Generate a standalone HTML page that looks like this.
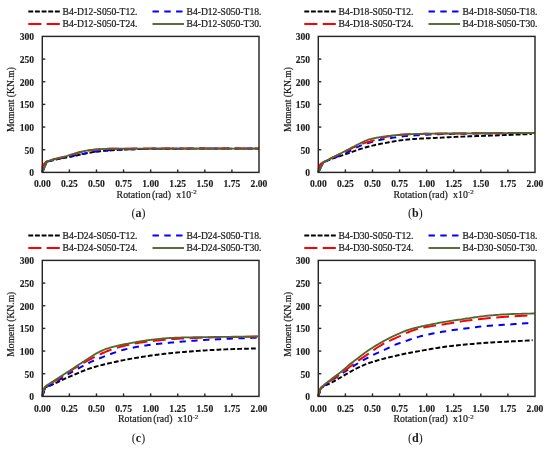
<!DOCTYPE html>
<html><head><meta charset="utf-8"><style>
html,body{margin:0;padding:0;background:#fff;}
svg{display:block;filter:blur(0.3px);}
text{font-family:"Liberation Serif","Times New Roman",serif;fill:#1a1a1a;}
.lg{font-size:9.6px;stroke:#1a1a1a;stroke-width:0.22px;}
.tk{font-size:9.6px;font-weight:bold;stroke:#1a1a1a;stroke-width:0.12px;}
.ti{font-size:9.9px;stroke:#1a1a1a;stroke-width:0.2px;}
.yt{font-size:9.6px;stroke:#1a1a1a;stroke-width:0.2px;}
.sup{font-size:7px;}
.cap{font-size:12px;}
</style></head><body>
<svg width="550" height="449" viewBox="0 0 550 449">
<rect width="550" height="449" fill="#fff"/>
<line x1="28.3" y1="11.5" x2="59.8" y2="11.5" stroke="#000000" stroke-width="1.9" stroke-dasharray="4.9 1.75"/>
<text x="62.5" y="14.6" class="lg">B4-D12-S050-T12.</text>
<line x1="152.5" y1="11.5" x2="184.0" y2="11.5" stroke="#0000ff" stroke-width="1.9" stroke-dasharray="6.4 5.4"/>
<text x="186.5" y="14.6" class="lg">B4-D12-S050-T18.</text>
<line x1="28.3" y1="24.0" x2="59.8" y2="24.0" stroke="#ff0000" stroke-width="1.9" stroke-dasharray="13.1 5.3"/>
<text x="62.5" y="27.1" class="lg">B4-D12-S050-T24.</text>
<line x1="152.5" y1="24.0" x2="184.0" y2="24.0" stroke="#536630" stroke-width="1.9"/>
<text x="186.5" y="27.1" class="lg">B4-D12-S050-T30.</text>
<path d="M42.30,172.40 L46.74,161.79 L47.60,161.58 L48.45,161.36 L49.31,161.14 L50.17,160.92 L51.02,160.70 L51.88,160.48 L52.73,160.27 L53.59,160.06 L54.45,159.86 L55.30,159.66 L56.17,159.47 L57.04,159.28 L57.90,159.10 L58.77,158.92 L59.64,158.75 L60.50,158.57 L61.37,158.40 L62.24,158.23 L63.10,158.06 L63.97,157.89 L65.05,157.68 L66.14,157.48 L67.22,157.28 L68.30,157.08 L69.39,156.88 L70.47,156.68 L71.55,156.48 L72.64,156.28 L73.72,156.07 L74.80,155.85 L75.72,155.66 L76.63,155.47 L77.54,155.27 L78.45,155.06 L79.36,154.86 L80.27,154.65 L81.18,154.44 L82.09,154.24 L83.00,154.05 L83.91,153.86 L84.82,153.67 L85.73,153.49 L86.64,153.30 L87.55,153.11 L88.46,152.93 L89.37,152.76 L90.28,152.59 L91.19,152.43 L92.10,152.28 L93.01,152.14 L93.92,152.01 L94.83,151.88 L95.74,151.76 L96.65,151.64 L97.56,151.53 L98.47,151.43 L99.38,151.33 L100.29,151.23 L101.20,151.14 L102.11,151.05 L103.02,150.96 L103.93,150.88 L104.84,150.80 L105.75,150.73 L106.66,150.65 L107.57,150.58 L108.48,150.52 L109.39,150.45 L110.30,150.39 L111.21,150.32 L112.12,150.26 L113.03,150.20 L113.94,150.14 L114.85,150.09 L115.76,150.03 L116.67,149.98 L117.58,149.92 L118.49,149.87 L119.40,149.83 L120.31,149.78 L121.72,149.71 L123.13,149.64 L124.54,149.57 L125.95,149.50 L127.35,149.44 L128.76,149.38 L130.17,149.32 L131.58,149.27 L132.99,149.23 L134.40,149.19 L137.11,149.12 L139.81,149.06 L142.52,149.00 L145.23,148.95 L147.94,148.90 L150.65,148.85 L153.36,148.81 L156.07,148.78 L158.78,148.75 L161.49,148.74 L165.82,148.71 L170.15,148.69 L174.49,148.67 L178.82,148.65 L183.15,148.64 L187.49,148.62 L191.82,148.61 L196.16,148.61 L200.49,148.60 L204.82,148.60 L210.24,148.60 L215.66,148.60 L221.08,148.60 L226.50,148.60 L231.91,148.60 L237.33,148.60 L242.75,148.60 L248.16,148.60 L253.58,148.60 L259.00,148.60" fill="none" stroke="#000000" stroke-width="1.95" stroke-linejoin="round" stroke-dasharray="4.8 2.1"/>
<path d="M42.30,172.40 L46.74,161.70 L47.60,161.48 L48.45,161.25 L49.31,161.02 L50.17,160.79 L51.02,160.56 L51.88,160.33 L52.73,160.11 L53.59,159.89 L54.45,159.68 L55.30,159.48 L56.17,159.28 L57.04,159.09 L57.90,158.90 L58.77,158.72 L59.64,158.54 L60.50,158.37 L61.37,158.19 L62.24,158.02 L63.10,157.84 L63.97,157.67 L65.05,157.45 L66.14,157.23 L67.22,157.02 L68.30,156.81 L69.39,156.60 L70.47,156.39 L71.55,156.18 L72.64,155.97 L73.72,155.75 L74.80,155.54 L75.72,155.35 L76.63,155.16 L77.54,154.97 L78.45,154.77 L79.36,154.58 L80.27,154.39 L81.18,154.19 L82.09,154.00 L83.00,153.82 L83.91,153.63 L84.82,153.45 L85.73,153.26 L86.64,153.08 L87.55,152.89 L88.46,152.71 L89.37,152.53 L90.28,152.36 L91.19,152.20 L92.10,152.05 L93.01,151.91 L93.92,151.78 L94.83,151.66 L95.74,151.55 L96.65,151.43 L97.56,151.33 L98.47,151.23 L99.38,151.13 L100.29,151.04 L101.20,150.95 L102.11,150.87 L103.02,150.79 L103.93,150.71 L104.84,150.64 L105.75,150.56 L106.66,150.50 L107.57,150.43 L108.48,150.37 L109.39,150.30 L110.30,150.24 L111.21,150.19 L112.12,150.13 L113.03,150.07 L113.94,150.02 L114.85,149.97 L115.76,149.92 L116.67,149.87 L117.58,149.82 L118.49,149.77 L119.40,149.73 L120.31,149.69 L121.72,149.62 L123.13,149.56 L124.54,149.50 L125.95,149.43 L127.35,149.38 L128.76,149.32 L130.17,149.27 L131.58,149.22 L132.99,149.18 L134.40,149.14 L137.11,149.08 L139.81,149.03 L142.52,148.97 L145.23,148.93 L147.94,148.88 L150.65,148.84 L153.36,148.81 L156.07,148.78 L158.78,148.75 L161.49,148.74 L165.82,148.71 L170.15,148.69 L174.49,148.67 L178.82,148.65 L183.15,148.64 L187.49,148.63 L191.82,148.61 L196.16,148.61 L200.49,148.60 L204.82,148.60 L210.24,148.60 L215.66,148.60 L221.08,148.60 L226.50,148.60 L231.91,148.60 L237.33,148.60 L242.75,148.60 L248.16,148.60 L253.58,148.60 L259.00,148.60" fill="none" stroke="#0000ff" stroke-width="2.0" stroke-linejoin="round" stroke-dasharray="6.3 5.5"/>
<path d="M42.30,172.40 L42.52,166.60 L42.71,166.28 L42.91,165.95 L43.10,165.62 L43.30,165.28 L43.49,164.95 L43.69,164.63 L43.88,164.32 L44.08,164.02 L44.27,163.76 L44.47,163.51 L44.66,163.29 L44.86,163.07 L45.05,162.86 L45.25,162.66 L45.44,162.47 L45.64,162.29 L45.83,162.13 L46.03,161.98 L46.22,161.85 L46.42,161.75 L48.34,160.89 L50.25,160.17 L52.17,159.57 L54.09,159.07 L56.01,158.63 L57.92,158.23 L59.84,157.85 L61.76,157.45 L63.68,157.02 L65.60,156.53 L67.42,156.01 L69.24,155.47 L71.06,154.91 L72.88,154.35 L74.70,153.79 L76.52,153.24 L78.34,152.72 L80.16,152.24 L81.98,151.80 L83.80,151.41 L84.72,151.23 L85.64,151.06 L86.56,150.90 L87.48,150.74 L88.40,150.59 L89.32,150.44 L90.24,150.31 L91.17,150.18 L92.09,150.07 L93.01,149.96 L93.92,149.86 L94.83,149.77 L95.74,149.68 L96.65,149.59 L97.56,149.51 L98.47,149.44 L99.38,149.37 L100.29,149.30 L101.20,149.24 L102.11,149.19 L103.02,149.14 L103.93,149.09 L104.84,149.05 L105.75,149.01 L106.66,148.97 L107.57,148.93 L108.48,148.90 L109.39,148.87 L110.30,148.85 L111.21,148.83 L112.58,148.80 L113.94,148.77 L115.31,148.75 L116.67,148.73 L118.04,148.71 L119.40,148.69 L120.77,148.67 L122.13,148.66 L123.50,148.65 L124.86,148.65 L127.44,148.64 L130.02,148.63 L132.60,148.62 L135.18,148.62 L137.76,148.61 L140.34,148.61 L142.91,148.60 L145.49,148.60 L148.07,148.60 L150.65,148.60 L161.49,148.60 L172.32,148.60 L183.15,148.60 L193.99,148.60 L204.82,148.60 L215.66,148.60 L226.50,148.60 L237.33,148.60 L248.16,148.60 L259.00,148.60" fill="none" stroke="#ff0000" stroke-width="2.0" stroke-linejoin="round" stroke-dasharray="12.8 5.6"/>
<path d="M42.30,172.40 L46.74,161.38 L48.63,160.88 L50.51,160.37 L52.40,159.87 L54.28,159.36 L56.17,158.86 L58.05,158.35 L59.94,157.85 L61.82,157.34 L63.71,156.82 L65.60,156.31 L67.42,155.79 L69.24,155.25 L71.06,154.69 L72.88,154.12 L74.70,153.56 L76.52,153.02 L78.34,152.50 L80.16,152.01 L81.98,151.57 L83.80,151.18 L84.72,151.01 L85.64,150.83 L86.56,150.67 L87.48,150.51 L88.40,150.35 L89.32,150.21 L90.24,150.08 L91.17,149.95 L92.09,149.84 L93.01,149.73 L93.92,149.64 L94.83,149.55 L95.74,149.46 L96.65,149.38 L97.56,149.31 L98.47,149.23 L99.38,149.17 L100.29,149.11 L101.20,149.06 L102.11,149.01 L103.02,148.96 L103.93,148.92 L104.84,148.88 L105.75,148.84 L106.66,148.81 L107.57,148.78 L108.48,148.75 L109.39,148.72 L110.30,148.70 L111.21,148.69 L112.58,148.68 L113.94,148.66 L115.31,148.65 L116.67,148.64 L118.04,148.63 L119.40,148.62 L120.77,148.61 L122.13,148.60 L123.50,148.60 L124.86,148.60 L138.28,148.60 L151.69,148.60 L165.10,148.60 L178.52,148.60 L191.93,148.60 L205.35,148.60 L218.76,148.60 L232.17,148.60 L245.59,148.60 L259.00,148.60" fill="none" stroke="#536630" stroke-width="1.85" stroke-linejoin="round"/>
<rect x="42.30" y="36.40" width="216.70" height="136.00" fill="none" stroke="#262626" stroke-width="1.45"/>
<line x1="42.30" y1="149.73" x2="45.30" y2="149.73" stroke="#262626" stroke-width="1.4"/>
<line x1="42.30" y1="127.07" x2="45.30" y2="127.07" stroke="#262626" stroke-width="1.4"/>
<line x1="42.30" y1="104.40" x2="45.30" y2="104.40" stroke="#262626" stroke-width="1.4"/>
<line x1="42.30" y1="81.73" x2="45.30" y2="81.73" stroke="#262626" stroke-width="1.4"/>
<line x1="42.30" y1="59.07" x2="45.30" y2="59.07" stroke="#262626" stroke-width="1.4"/>
<line x1="69.39" y1="172.40" x2="69.39" y2="169.40" stroke="#262626" stroke-width="1.4"/>
<line x1="96.47" y1="172.40" x2="96.47" y2="169.40" stroke="#262626" stroke-width="1.4"/>
<line x1="123.56" y1="172.40" x2="123.56" y2="169.40" stroke="#262626" stroke-width="1.4"/>
<line x1="150.65" y1="172.40" x2="150.65" y2="169.40" stroke="#262626" stroke-width="1.4"/>
<line x1="177.74" y1="172.40" x2="177.74" y2="169.40" stroke="#262626" stroke-width="1.4"/>
<line x1="204.82" y1="172.40" x2="204.82" y2="169.40" stroke="#262626" stroke-width="1.4"/>
<line x1="231.91" y1="172.40" x2="231.91" y2="169.40" stroke="#262626" stroke-width="1.4"/>
<text x="34.10" y="176.20" class="tk" text-anchor="end">0</text>
<text x="34.10" y="153.53" class="tk" text-anchor="end">50</text>
<text x="34.10" y="130.87" class="tk" text-anchor="end">100</text>
<text x="34.10" y="108.20" class="tk" text-anchor="end">150</text>
<text x="34.10" y="85.53" class="tk" text-anchor="end">200</text>
<text x="34.10" y="62.87" class="tk" text-anchor="end">250</text>
<text x="34.10" y="40.20" class="tk" text-anchor="end">300</text>
<text x="42.30" y="187.10" class="tk" text-anchor="middle">0.00</text>
<text x="69.39" y="187.10" class="tk" text-anchor="middle">0.25</text>
<text x="96.47" y="187.10" class="tk" text-anchor="middle">0.50</text>
<text x="123.56" y="187.10" class="tk" text-anchor="middle">0.75</text>
<text x="150.65" y="187.10" class="tk" text-anchor="middle">1.00</text>
<text x="177.74" y="187.10" class="tk" text-anchor="middle">1.25</text>
<text x="204.82" y="187.10" class="tk" text-anchor="middle">1.50</text>
<text x="231.91" y="187.10" class="tk" text-anchor="middle">1.75</text>
<text x="259.00" y="187.10" class="tk" text-anchor="middle">2.00</text>
<text transform="translate(14.20,99.60) rotate(-90)" class="yt" text-anchor="middle">Moment (KN.m)</text>
<text x="116.60" y="198.00" class="ti">Rotation<tspan x="151.90">(rad)</tspan><tspan x="176.30">x10</tspan><tspan class="sup" x="191.00" dy="-3.9">-2</tspan></text>
<text x="138.50" y="217.30" class="cap" text-anchor="middle">(<tspan font-weight="bold">a</tspan>)</text>
<line x1="304.3" y1="11.5" x2="335.8" y2="11.5" stroke="#000000" stroke-width="1.9" stroke-dasharray="4.9 1.75"/>
<text x="338.5" y="14.6" class="lg">B4-D18-S050-T12.</text>
<line x1="428.5" y1="11.5" x2="460.0" y2="11.5" stroke="#0000ff" stroke-width="1.9" stroke-dasharray="6.4 5.4"/>
<text x="462.5" y="14.6" class="lg">B4-D18-S050-T18.</text>
<line x1="304.3" y1="24.0" x2="335.8" y2="24.0" stroke="#ff0000" stroke-width="1.9" stroke-dasharray="13.1 5.3"/>
<text x="338.5" y="27.1" class="lg">B4-D18-S050-T24.</text>
<line x1="428.5" y1="24.0" x2="460.0" y2="24.0" stroke="#536630" stroke-width="1.9"/>
<text x="462.5" y="27.1" class="lg">B4-D18-S050-T30.</text>
<path d="M318.30,172.40 L323.28,162.43 L324.04,162.10 L324.80,161.77 L325.56,161.44 L326.32,161.11 L327.08,160.78 L327.83,160.45 L328.59,160.13 L329.35,159.81 L330.11,159.50 L330.87,159.21 L332.37,158.65 L333.88,158.11 L335.39,157.58 L336.89,157.08 L338.40,156.58 L339.90,156.09 L341.41,155.60 L342.92,155.10 L344.42,154.60 L345.93,154.09 L347.32,153.60 L348.70,153.10 L350.09,152.60 L351.48,152.09 L352.86,151.59 L354.25,151.09 L355.64,150.59 L357.02,150.11 L358.41,149.64 L359.80,149.19 L360.71,148.90 L361.62,148.62 L362.53,148.33 L363.44,148.06 L364.35,147.79 L365.26,147.52 L366.17,147.26 L367.08,147.00 L367.99,146.76 L368.90,146.51 L369.81,146.28 L370.72,146.05 L371.63,145.83 L372.54,145.61 L373.45,145.39 L374.36,145.18 L375.27,144.98 L376.18,144.78 L377.09,144.58 L378.00,144.38 L378.91,144.19 L379.82,144.01 L380.73,143.82 L381.64,143.65 L382.55,143.47 L383.46,143.30 L384.37,143.12 L385.28,142.95 L386.19,142.78 L387.10,142.62 L388.02,142.44 L388.94,142.27 L389.87,142.10 L390.79,141.93 L391.71,141.76 L392.63,141.60 L393.55,141.44 L394.47,141.28 L395.39,141.13 L396.31,140.98 L397.29,140.83 L398.26,140.69 L399.24,140.54 L400.21,140.40 L401.19,140.26 L402.16,140.13 L403.14,140.00 L404.11,139.88 L405.09,139.77 L406.06,139.67 L407.31,139.55 L408.56,139.44 L409.80,139.33 L411.05,139.23 L412.29,139.13 L413.54,139.04 L414.79,138.95 L416.03,138.87 L417.28,138.79 L418.52,138.72 L419.89,138.64 L421.25,138.57 L422.62,138.51 L423.98,138.44 L425.35,138.38 L426.72,138.32 L428.08,138.27 L429.45,138.21 L430.81,138.15 L432.18,138.08 L433.54,138.02 L434.91,137.95 L436.27,137.88 L437.64,137.82 L439.00,137.75 L440.37,137.68 L441.73,137.61 L443.10,137.54 L444.46,137.47 L445.83,137.40 L446.74,137.35 L447.65,137.30 L448.56,137.25 L449.47,137.20 L450.38,137.15 L451.29,137.09 L452.20,137.04 L453.11,136.99 L454.02,136.95 L454.93,136.90 L458.53,136.75 L462.12,136.60 L465.72,136.46 L469.32,136.33 L472.92,136.21 L476.51,136.09 L480.11,135.97 L483.71,135.85 L487.30,135.72 L490.90,135.59 L494.99,135.43 L499.07,135.28 L503.16,135.12 L507.24,134.96 L511.33,134.80 L515.41,134.64 L519.50,134.48 L523.58,134.32 L527.66,134.16 L531.75,134.00" fill="none" stroke="#000000" stroke-width="1.95" stroke-linejoin="round" stroke-dasharray="4.8 2.1"/>
<path d="M318.30,172.40 L323.28,162.20 L325.55,161.28 L327.81,160.37 L330.08,159.47 L332.34,158.58 L334.61,157.68 L336.87,156.77 L339.14,155.84 L341.40,154.89 L343.66,153.92 L345.93,152.91 L347.32,152.25 L348.70,151.56 L350.09,150.84 L351.48,150.10 L352.86,149.35 L354.25,148.62 L355.64,147.90 L357.02,147.21 L358.41,146.56 L359.80,145.97 L360.71,145.61 L361.62,145.25 L362.53,144.91 L363.44,144.58 L364.35,144.26 L365.26,143.95 L366.17,143.65 L367.08,143.35 L367.99,143.07 L368.90,142.80 L370.08,142.45 L371.26,142.12 L372.44,141.79 L373.62,141.47 L374.80,141.16 L375.99,140.87 L377.17,140.58 L378.35,140.31 L379.53,140.05 L380.71,139.81 L381.89,139.57 L383.07,139.35 L384.25,139.13 L385.43,138.93 L386.61,138.73 L387.80,138.54 L388.98,138.35 L390.16,138.17 L391.34,137.99 L392.52,137.81 L393.75,137.62 L394.99,137.44 L396.23,137.25 L397.46,137.07 L398.70,136.89 L399.93,136.72 L401.17,136.55 L402.40,136.40 L403.64,136.26 L404.87,136.13 L405.97,136.03 L407.06,135.94 L408.15,135.85 L409.25,135.76 L410.34,135.68 L411.44,135.61 L412.53,135.53 L413.63,135.46 L414.72,135.39 L415.81,135.32 L417.28,135.22 L418.74,135.13 L420.20,135.04 L421.67,134.95 L423.13,134.86 L424.59,134.78 L426.05,134.70 L427.52,134.63 L428.98,134.56 L430.44,134.50 L433.31,134.40 L436.18,134.30 L439.06,134.20 L441.93,134.11 L444.80,134.03 L447.67,133.96 L450.54,133.89 L453.41,133.83 L456.28,133.78 L459.15,133.73 L466.74,133.63 L474.32,133.54 L481.91,133.46 L489.49,133.40 L497.08,133.34 L504.66,133.28 L512.25,133.23 L519.83,133.17 L527.42,133.11 L535.00,133.05" fill="none" stroke="#0000ff" stroke-width="2.0" stroke-linejoin="round" stroke-dasharray="6.3 5.5"/>
<path d="M318.30,172.40 L318.84,168.18 L318.98,167.79 L319.12,167.37 L319.26,166.94 L319.41,166.50 L319.55,166.06 L319.69,165.65 L319.83,165.27 L319.97,164.94 L320.11,164.67 L320.25,164.47 L320.55,164.14 L320.86,163.86 L321.16,163.62 L321.46,163.42 L321.77,163.23 L322.07,163.07 L322.37,162.91 L322.68,162.76 L322.98,162.60 L323.28,162.43 L325.25,161.29 L327.21,160.21 L329.17,159.18 L331.13,158.20 L333.09,157.24 L335.05,156.30 L337.01,155.39 L338.97,154.47 L340.93,153.56 L342.90,152.63 L345.00,151.62 L347.10,150.58 L349.20,149.53 L351.30,148.49 L353.41,147.47 L355.51,146.48 L357.61,145.53 L359.71,144.65 L361.81,143.84 L363.92,143.11 L364.60,142.90 L365.28,142.71 L365.96,142.53 L366.65,142.36 L367.33,142.19 L368.01,142.02 L368.69,141.85 L369.38,141.68 L370.06,141.50 L370.74,141.30 L371.46,141.08 L372.17,140.84 L372.89,140.59 L373.60,140.33 L374.32,140.07 L375.03,139.81 L375.75,139.55 L376.46,139.30 L377.18,139.07 L377.89,138.85 L378.81,138.59 L379.73,138.33 L380.66,138.08 L381.58,137.84 L382.50,137.60 L383.42,137.37 L384.34,137.16 L385.26,136.96 L386.18,136.76 L387.10,136.59 L388.02,136.42 L388.94,136.26 L389.87,136.10 L390.79,135.95 L391.71,135.81 L392.63,135.68 L393.55,135.55 L394.47,135.43 L395.39,135.32 L396.31,135.23 L397.67,135.09 L399.02,134.97 L400.38,134.84 L401.73,134.73 L403.08,134.62 L404.44,134.52 L405.79,134.44 L407.15,134.36 L408.50,134.29 L409.86,134.23 L412.09,134.15 L414.32,134.07 L416.55,134.01 L418.78,133.94 L421.02,133.89 L423.25,133.84 L425.48,133.79 L427.71,133.75 L429.94,133.72 L432.18,133.69 L438.12,133.61 L444.07,133.54 L450.02,133.48 L455.97,133.43 L461.92,133.38 L467.87,133.34 L473.81,133.30 L479.76,133.26 L485.71,133.22 L491.66,133.19 L495.99,133.16 L500.33,133.14 L504.66,133.11 L509.00,133.09 L513.33,133.07 L517.66,133.05 L522.00,133.02 L526.33,133.00 L530.67,132.98 L535.00,132.96" fill="none" stroke="#ff0000" stroke-width="2.0" stroke-linejoin="round" stroke-dasharray="12.8 5.6"/>
<path d="M318.30,172.40 L323.28,162.43 L325.25,161.41 L327.21,160.39 L329.17,159.36 L331.13,158.34 L333.09,157.32 L335.05,156.30 L337.01,155.28 L338.97,154.26 L340.93,153.24 L342.90,152.23 L344.66,151.31 L346.43,150.39 L348.19,149.46 L349.96,148.54 L351.73,147.61 L353.49,146.70 L355.26,145.78 L357.02,144.88 L358.79,143.99 L360.56,143.11 L361.10,142.84 L361.64,142.57 L362.18,142.29 L362.72,142.01 L363.27,141.74 L363.81,141.47 L364.35,141.22 L364.89,140.97 L365.43,140.74 L365.97,140.53 L366.62,140.29 L367.27,140.07 L367.92,139.85 L368.57,139.64 L369.22,139.45 L369.87,139.26 L370.52,139.08 L371.17,138.90 L371.82,138.74 L372.48,138.58 L373.03,138.45 L373.58,138.33 L374.13,138.21 L374.69,138.10 L375.24,137.99 L375.79,137.89 L376.34,137.78 L376.90,137.68 L377.45,137.59 L378.00,137.49 L378.91,137.34 L379.82,137.20 L380.73,137.06 L381.64,136.92 L382.55,136.79 L383.46,136.66 L384.37,136.54 L385.28,136.42 L386.19,136.30 L387.10,136.18 L388.02,136.06 L388.94,135.94 L389.87,135.82 L390.79,135.70 L391.71,135.59 L392.63,135.47 L393.55,135.37 L394.47,135.27 L395.39,135.18 L396.31,135.09 L397.67,134.97 L399.02,134.86 L400.38,134.75 L401.73,134.65 L403.08,134.55 L404.44,134.46 L405.79,134.38 L407.15,134.30 L408.50,134.24 L409.86,134.18 L412.09,134.11 L414.32,134.04 L416.55,133.98 L418.78,133.93 L421.02,133.88 L423.25,133.83 L425.48,133.79 L427.71,133.75 L429.94,133.72 L432.18,133.69 L434.45,133.66 L436.73,133.63 L439.00,133.60 L441.28,133.58 L443.55,133.56 L445.83,133.54 L448.10,133.52 L450.38,133.50 L452.65,133.48 L454.93,133.46 L458.60,133.43 L462.28,133.40 L465.95,133.37 L469.62,133.34 L473.29,133.31 L476.97,133.28 L480.64,133.26 L484.31,133.23 L487.99,133.21 L491.66,133.19 L495.99,133.16 L500.33,133.14 L504.66,133.11 L509.00,133.09 L513.33,133.07 L517.66,133.05 L522.00,133.03 L526.33,133.00 L530.67,132.98 L535.00,132.96" fill="none" stroke="#536630" stroke-width="1.85" stroke-linejoin="round"/>
<rect x="318.30" y="36.40" width="216.70" height="136.00" fill="none" stroke="#262626" stroke-width="1.45"/>
<line x1="318.30" y1="149.73" x2="321.30" y2="149.73" stroke="#262626" stroke-width="1.4"/>
<line x1="318.30" y1="127.07" x2="321.30" y2="127.07" stroke="#262626" stroke-width="1.4"/>
<line x1="318.30" y1="104.40" x2="321.30" y2="104.40" stroke="#262626" stroke-width="1.4"/>
<line x1="318.30" y1="81.73" x2="321.30" y2="81.73" stroke="#262626" stroke-width="1.4"/>
<line x1="318.30" y1="59.07" x2="321.30" y2="59.07" stroke="#262626" stroke-width="1.4"/>
<line x1="345.39" y1="172.40" x2="345.39" y2="169.40" stroke="#262626" stroke-width="1.4"/>
<line x1="372.48" y1="172.40" x2="372.48" y2="169.40" stroke="#262626" stroke-width="1.4"/>
<line x1="399.56" y1="172.40" x2="399.56" y2="169.40" stroke="#262626" stroke-width="1.4"/>
<line x1="426.65" y1="172.40" x2="426.65" y2="169.40" stroke="#262626" stroke-width="1.4"/>
<line x1="453.74" y1="172.40" x2="453.74" y2="169.40" stroke="#262626" stroke-width="1.4"/>
<line x1="480.82" y1="172.40" x2="480.82" y2="169.40" stroke="#262626" stroke-width="1.4"/>
<line x1="507.91" y1="172.40" x2="507.91" y2="169.40" stroke="#262626" stroke-width="1.4"/>
<text x="310.10" y="176.20" class="tk" text-anchor="end">0</text>
<text x="310.10" y="153.53" class="tk" text-anchor="end">50</text>
<text x="310.10" y="130.87" class="tk" text-anchor="end">100</text>
<text x="310.10" y="108.20" class="tk" text-anchor="end">150</text>
<text x="310.10" y="85.53" class="tk" text-anchor="end">200</text>
<text x="310.10" y="62.87" class="tk" text-anchor="end">250</text>
<text x="310.10" y="40.20" class="tk" text-anchor="end">300</text>
<text x="318.30" y="187.10" class="tk" text-anchor="middle">0.00</text>
<text x="345.39" y="187.10" class="tk" text-anchor="middle">0.25</text>
<text x="372.48" y="187.10" class="tk" text-anchor="middle">0.50</text>
<text x="399.56" y="187.10" class="tk" text-anchor="middle">0.75</text>
<text x="426.65" y="187.10" class="tk" text-anchor="middle">1.00</text>
<text x="453.74" y="187.10" class="tk" text-anchor="middle">1.25</text>
<text x="480.82" y="187.10" class="tk" text-anchor="middle">1.50</text>
<text x="507.91" y="187.10" class="tk" text-anchor="middle">1.75</text>
<text x="535.00" y="187.10" class="tk" text-anchor="middle">2.00</text>
<text transform="translate(290.70,99.60) rotate(-90)" class="yt" text-anchor="middle">Moment (KN.m)</text>
<text x="393.40" y="198.00" class="ti">Rotation<tspan x="428.70">(rad)</tspan><tspan x="453.10">x10</tspan><tspan class="sup" x="467.80" dy="-3.9">-2</tspan></text>
<text x="415.30" y="217.30" class="cap" text-anchor="middle">(<tspan font-weight="bold">b</tspan>)</text>
<line x1="28.3" y1="235.5" x2="59.8" y2="235.5" stroke="#000000" stroke-width="1.9" stroke-dasharray="4.9 1.75"/>
<text x="62.5" y="238.6" class="lg">B4-D24-S050-T12.</text>
<line x1="152.5" y1="235.5" x2="184.0" y2="235.5" stroke="#0000ff" stroke-width="1.9" stroke-dasharray="6.4 5.4"/>
<text x="186.5" y="238.6" class="lg">B4-D24-S050-T18.</text>
<line x1="28.3" y1="248.0" x2="59.8" y2="248.0" stroke="#ff0000" stroke-width="1.9" stroke-dasharray="13.1 5.3"/>
<text x="62.5" y="251.1" class="lg">B4-D24-S050-T24.</text>
<line x1="152.5" y1="248.0" x2="184.0" y2="248.0" stroke="#536630" stroke-width="1.9"/>
<text x="186.5" y="251.1" class="lg">B4-D24-S050-T30.</text>
<path d="M42.30,396.40 L45.33,387.33 L45.78,387.18 L46.22,387.02 L46.67,386.87 L47.11,386.72 L47.55,386.57 L48.00,386.41 L48.44,386.25 L48.89,386.09 L49.33,385.92 L49.78,385.75 L50.27,385.54 L50.77,385.32 L51.27,385.10 L51.77,384.87 L52.27,384.63 L52.77,384.39 L53.27,384.15 L53.76,383.91 L54.26,383.67 L54.76,383.43 L55.78,382.96 L56.80,382.49 L57.82,382.01 L58.83,381.53 L59.85,381.05 L60.87,380.58 L61.89,380.11 L62.91,379.64 L63.93,379.18 L64.95,378.72 L66.43,378.06 L67.91,377.41 L69.40,376.77 L70.88,376.13 L72.37,375.50 L73.85,374.87 L75.34,374.24 L76.82,373.62 L78.30,373.00 L79.79,372.37 L80.50,372.07 L81.22,371.77 L81.93,371.46 L82.65,371.15 L83.36,370.84 L84.08,370.54 L84.79,370.25 L85.51,369.96 L86.23,369.69 L86.94,369.43 L88.01,369.05 L89.09,368.69 L90.16,368.34 L91.23,368.00 L92.30,367.67 L93.38,367.35 L94.45,367.03 L95.52,366.72 L96.59,366.42 L97.67,366.12 L98.56,365.87 L99.44,365.63 L100.33,365.40 L101.22,365.17 L102.11,364.94 L103.00,364.72 L103.89,364.49 L104.77,364.28 L105.66,364.06 L106.55,363.85 L107.39,363.65 L108.22,363.46 L109.05,363.27 L109.89,363.08 L110.72,362.90 L111.56,362.72 L112.39,362.53 L113.23,362.35 L114.06,362.17 L114.89,361.99 L116.00,361.75 L117.10,361.51 L118.21,361.28 L119.32,361.04 L120.42,360.80 L121.53,360.57 L122.63,360.34 L123.74,360.12 L124.84,359.89 L125.95,359.68 L127.07,359.47 L128.20,359.26 L129.33,359.05 L130.45,358.85 L131.58,358.65 L132.71,358.45 L133.83,358.26 L134.96,358.07 L136.09,357.88 L137.21,357.69 L138.32,357.50 L139.42,357.32 L140.53,357.13 L141.64,356.95 L142.74,356.77 L143.85,356.59 L144.95,356.42 L146.06,356.25 L147.16,356.08 L148.27,355.92 L149.43,355.75 L150.58,355.59 L151.74,355.43 L152.90,355.27 L154.06,355.11 L155.22,354.96 L156.38,354.81 L157.54,354.66 L158.70,354.52 L159.86,354.38 L160.98,354.24 L162.09,354.10 L163.21,353.97 L164.32,353.84 L165.44,353.71 L166.56,353.58 L167.67,353.46 L168.79,353.34 L169.90,353.22 L171.02,353.11 L172.14,353.00 L173.25,352.89 L174.37,352.79 L175.48,352.68 L176.60,352.58 L177.72,352.49 L178.83,352.39 L179.95,352.30 L181.06,352.20 L182.18,352.11 L183.30,352.02 L184.41,351.93 L185.53,351.84 L186.64,351.75 L187.76,351.67 L188.88,351.58 L189.99,351.50 L191.11,351.41 L192.22,351.33 L193.34,351.25 L194.90,351.13 L196.46,351.02 L198.02,350.90 L199.58,350.78 L201.14,350.67 L202.70,350.56 L204.26,350.45 L205.82,350.35 L207.38,350.25 L208.94,350.16 L211.27,350.03 L213.60,349.91 L215.93,349.80 L218.26,349.69 L220.59,349.58 L222.92,349.48 L225.25,349.38 L227.58,349.29 L229.91,349.20 L232.24,349.12 L234.81,349.03 L237.37,348.95 L239.94,348.88 L242.51,348.80 L245.08,348.73 L247.64,348.67 L250.21,348.60 L252.78,348.53 L255.35,348.46 L257.92,348.39" fill="none" stroke="#000000" stroke-width="1.95" stroke-linejoin="round" stroke-dasharray="4.8 2.1"/>
<path d="M42.30,396.40 L45.33,387.11 L45.78,386.93 L46.22,386.75 L46.67,386.58 L47.11,386.41 L47.55,386.23 L48.00,386.06 L48.44,385.87 L48.89,385.69 L49.33,385.50 L49.78,385.29 L50.27,385.06 L50.77,384.81 L51.27,384.55 L51.77,384.28 L52.27,384.00 L52.77,383.72 L53.27,383.44 L53.76,383.15 L54.26,382.86 L54.76,382.57 L56.18,381.73 L57.60,380.86 L59.02,379.96 L60.44,379.05 L61.86,378.12 L63.28,377.20 L64.70,376.28 L66.12,375.37 L67.53,374.49 L68.95,373.64 L70.04,373.01 L71.12,372.39 L72.20,371.78 L73.29,371.17 L74.37,370.58 L75.46,369.98 L76.54,369.40 L77.62,368.81 L78.71,368.24 L79.79,367.66 L80.96,367.04 L82.13,366.41 L83.30,365.79 L84.47,365.17 L85.64,364.55 L86.81,363.95 L87.98,363.36 L89.15,362.78 L90.32,362.22 L91.49,361.67 L92.55,361.20 L93.61,360.74 L94.68,360.29 L95.74,359.85 L96.80,359.42 L97.86,358.99 L98.92,358.57 L99.99,358.16 L101.05,357.74 L102.11,357.32 L103.28,356.86 L104.45,356.40 L105.62,355.94 L106.79,355.48 L107.96,355.02 L109.13,354.58 L110.30,354.14 L111.47,353.71 L112.64,353.29 L113.81,352.88 L115.02,352.47 L116.24,352.05 L117.45,351.64 L118.67,351.24 L119.88,350.85 L121.09,350.47 L122.31,350.10 L123.52,349.75 L124.73,349.42 L125.95,349.12 L127.07,348.85 L128.20,348.59 L129.33,348.35 L130.45,348.12 L131.58,347.89 L132.71,347.67 L133.83,347.46 L134.96,347.26 L136.09,347.05 L137.21,346.85 L138.32,346.66 L139.42,346.46 L140.53,346.27 L141.64,346.09 L142.74,345.91 L143.85,345.73 L144.95,345.56 L146.06,345.40 L147.16,345.24 L148.27,345.08 L149.43,344.93 L150.58,344.78 L151.74,344.64 L152.90,344.50 L154.06,344.36 L155.22,344.23 L156.38,344.10 L157.54,343.98 L158.70,343.85 L159.86,343.72 L160.98,343.60 L162.09,343.48 L163.21,343.37 L164.32,343.25 L165.44,343.14 L166.56,343.02 L167.67,342.91 L168.79,342.80 L169.90,342.70 L171.02,342.59 L172.14,342.48 L173.25,342.38 L174.37,342.28 L175.48,342.17 L176.60,342.07 L177.72,341.97 L178.83,341.88 L179.95,341.78 L181.06,341.69 L182.18,341.59 L183.30,341.50 L184.41,341.41 L185.53,341.32 L186.64,341.23 L187.76,341.15 L188.88,341.06 L189.99,340.98 L191.11,340.89 L192.22,340.81 L193.34,340.73 L194.79,340.63 L196.24,340.53 L197.70,340.42 L199.15,340.33 L200.60,340.23 L202.05,340.13 L203.50,340.04 L204.96,339.95 L206.41,339.86 L207.86,339.78 L210.30,339.64 L212.73,339.51 L215.17,339.38 L217.61,339.26 L220.05,339.14 L222.49,339.03 L224.92,338.91 L227.36,338.81 L229.80,338.70 L232.24,338.60 L234.81,338.50 L237.37,338.40 L239.94,338.31 L242.51,338.22 L245.08,338.13 L247.64,338.04 L250.21,337.96 L252.78,337.87 L255.35,337.78 L257.92,337.69" fill="none" stroke="#0000ff" stroke-width="2.0" stroke-linejoin="round" stroke-dasharray="6.3 5.5"/>
<path d="M42.30,396.40 L43.28,390.05 L43.48,389.73 L43.69,389.39 L43.89,389.04 L44.10,388.69 L44.30,388.34 L44.51,388.00 L44.72,387.68 L44.92,387.38 L45.13,387.12 L45.33,386.88 L45.58,386.63 L45.83,386.40 L46.08,386.18 L46.33,385.98 L46.58,385.79 L46.83,385.61 L47.08,385.43 L47.33,385.27 L47.58,385.10 L47.83,384.93 L48.52,384.48 L49.21,384.05 L49.91,383.65 L50.60,383.27 L51.29,382.89 L51.99,382.53 L52.68,382.16 L53.37,381.78 L54.07,381.39 L54.76,380.99 L55.68,380.43 L56.60,379.85 L57.52,379.27 L58.44,378.68 L59.37,378.08 L60.29,377.48 L61.21,376.88 L62.13,376.28 L63.05,375.68 L63.97,375.09 L65.55,374.08 L67.13,373.07 L68.72,372.06 L70.30,371.04 L71.88,370.03 L73.46,369.03 L75.04,368.03 L76.63,367.05 L78.21,366.08 L79.79,365.12 L80.24,364.85 L80.70,364.58 L81.15,364.31 L81.61,364.05 L82.06,363.78 L82.52,363.52 L82.97,363.26 L83.43,363.00 L83.88,362.74 L84.34,362.49 L85.40,361.90 L86.46,361.32 L87.53,360.75 L88.59,360.18 L89.65,359.62 L90.71,359.06 L91.77,358.51 L92.83,357.96 L93.90,357.41 L94.96,356.87 L95.59,356.55 L96.21,356.22 L96.84,355.90 L97.47,355.58 L98.10,355.26 L98.73,354.94 L99.36,354.63 L99.99,354.33 L100.61,354.03 L101.24,353.74 L102.32,353.26 L103.39,352.78 L104.46,352.31 L105.53,351.85 L106.61,351.40 L107.68,350.96 L108.75,350.53 L109.82,350.12 L110.90,349.72 L111.97,349.34 L112.68,349.10 L113.40,348.86 L114.11,348.63 L114.83,348.41 L115.54,348.19 L116.26,347.98 L116.97,347.77 L117.69,347.56 L118.41,347.36 L119.12,347.17 L120.32,346.84 L121.53,346.53 L122.73,346.21 L123.93,345.91 L125.13,345.61 L126.34,345.33 L127.54,345.05 L128.74,344.78 L129.94,344.52 L131.15,344.27 L132.31,344.03 L133.47,343.80 L134.63,343.58 L135.78,343.37 L136.94,343.16 L138.10,342.95 L139.26,342.76 L140.42,342.57 L141.58,342.39 L142.74,342.23 L144.45,341.99 L146.16,341.77 L147.88,341.56 L149.59,341.36 L151.30,341.17 L153.01,340.99 L154.72,340.81 L156.44,340.63 L158.15,340.45 L159.86,340.28 L161.31,340.13 L162.76,339.97 L164.22,339.82 L165.67,339.67 L167.12,339.52 L168.57,339.38 L170.02,339.25 L171.47,339.12 L172.93,339.01 L174.38,338.92 L177.93,338.71 L181.49,338.52 L185.04,338.35 L188.59,338.19 L192.15,338.04 L195.70,337.90 L199.26,337.78 L202.81,337.67 L206.36,337.56 L209.92,337.47 L214.83,337.35 L219.73,337.24 L224.64,337.14 L229.55,337.05 L234.46,336.97 L239.37,336.89 L244.28,336.81 L249.18,336.73 L254.09,336.65 L259.00,336.56" fill="none" stroke="#ff0000" stroke-width="2.0" stroke-linejoin="round" stroke-dasharray="12.8 5.6"/>
<path d="M42.30,396.40 L43.28,389.83 L43.48,389.52 L43.69,389.19 L43.89,388.86 L44.10,388.53 L44.30,388.20 L44.51,387.88 L44.72,387.57 L44.92,387.28 L45.13,387.02 L45.33,386.79 L45.58,386.54 L45.83,386.31 L46.08,386.09 L46.33,385.89 L46.58,385.69 L46.83,385.51 L47.08,385.33 L47.33,385.15 L47.58,384.97 L47.83,384.79 L48.47,384.34 L49.10,383.90 L49.74,383.47 L50.38,383.05 L51.02,382.65 L51.66,382.24 L52.30,381.84 L52.94,381.44 L53.58,381.04 L54.22,380.62 L55.19,379.99 L56.17,379.36 L57.14,378.73 L58.12,378.10 L59.09,377.47 L60.07,376.84 L61.04,376.21 L62.02,375.58 L62.99,374.95 L63.97,374.32 L65.55,373.30 L67.13,372.27 L68.72,371.25 L70.30,370.22 L71.88,369.20 L73.46,368.17 L75.04,367.15 L76.63,366.12 L78.21,365.10 L79.79,364.08 L80.81,363.42 L81.83,362.76 L82.84,362.10 L83.86,361.44 L84.88,360.78 L85.90,360.12 L86.92,359.46 L87.94,358.81 L88.96,358.15 L89.97,357.50 L90.65,357.07 L91.32,356.64 L91.99,356.20 L92.66,355.76 L93.33,355.33 L94.00,354.90 L94.68,354.48 L95.35,354.06 L96.02,353.67 L96.69,353.29 L97.35,352.93 L98.01,352.57 L98.67,352.22 L99.34,351.87 L100.00,351.54 L100.66,351.21 L101.32,350.90 L101.98,350.59 L102.64,350.30 L103.30,350.02 L103.97,349.75 L104.64,349.49 L105.32,349.23 L105.99,348.98 L106.66,348.74 L107.33,348.51 L108.00,348.29 L108.68,348.07 L109.35,347.87 L110.02,347.67 L111.02,347.39 L112.01,347.12 L113.01,346.86 L114.01,346.62 L115.00,346.38 L116.00,346.15 L117.00,345.93 L117.99,345.70 L118.99,345.48 L119.99,345.26 L121.15,345.01 L122.31,344.76 L123.46,344.51 L124.62,344.27 L125.78,344.03 L126.94,343.79 L128.10,343.56 L129.26,343.34 L130.42,343.12 L131.58,342.91 L133.25,342.60 L134.92,342.31 L136.59,342.01 L138.25,341.73 L139.92,341.45 L141.59,341.18 L143.26,340.91 L144.93,340.66 L146.60,340.42 L148.27,340.19 L149.43,340.03 L150.58,339.88 L151.74,339.73 L152.90,339.58 L154.06,339.44 L155.22,339.30 L156.38,339.17 L157.54,339.05 L158.70,338.93 L159.86,338.83 L161.54,338.68 L163.22,338.54 L164.90,338.40 L166.58,338.27 L168.26,338.15 L169.94,338.04 L171.62,337.93 L173.30,337.84 L174.97,337.76 L176.65,337.69 L178.32,337.64 L179.99,337.58 L181.66,337.54 L183.33,337.49 L185.00,337.45 L186.67,337.41 L188.33,337.38 L190.00,337.35 L191.67,337.32 L193.34,337.29 L195.00,337.26 L196.66,337.23 L198.31,337.21 L199.97,337.19 L201.63,337.16 L203.29,337.14 L204.94,337.12 L206.60,337.10 L208.26,337.08 L209.92,337.06 L214.72,336.99 L219.52,336.93 L224.32,336.87 L229.12,336.80 L233.92,336.74 L238.72,336.68 L243.52,336.61 L248.32,336.55 L253.12,336.49 L257.92,336.42" fill="none" stroke="#536630" stroke-width="1.85" stroke-linejoin="round"/>
<rect x="42.30" y="260.40" width="216.70" height="136.00" fill="none" stroke="#262626" stroke-width="1.45"/>
<line x1="42.30" y1="373.73" x2="45.30" y2="373.73" stroke="#262626" stroke-width="1.4"/>
<line x1="42.30" y1="351.07" x2="45.30" y2="351.07" stroke="#262626" stroke-width="1.4"/>
<line x1="42.30" y1="328.40" x2="45.30" y2="328.40" stroke="#262626" stroke-width="1.4"/>
<line x1="42.30" y1="305.73" x2="45.30" y2="305.73" stroke="#262626" stroke-width="1.4"/>
<line x1="42.30" y1="283.07" x2="45.30" y2="283.07" stroke="#262626" stroke-width="1.4"/>
<line x1="69.39" y1="396.40" x2="69.39" y2="393.40" stroke="#262626" stroke-width="1.4"/>
<line x1="96.47" y1="396.40" x2="96.47" y2="393.40" stroke="#262626" stroke-width="1.4"/>
<line x1="123.56" y1="396.40" x2="123.56" y2="393.40" stroke="#262626" stroke-width="1.4"/>
<line x1="150.65" y1="396.40" x2="150.65" y2="393.40" stroke="#262626" stroke-width="1.4"/>
<line x1="177.74" y1="396.40" x2="177.74" y2="393.40" stroke="#262626" stroke-width="1.4"/>
<line x1="204.82" y1="396.40" x2="204.82" y2="393.40" stroke="#262626" stroke-width="1.4"/>
<line x1="231.91" y1="396.40" x2="231.91" y2="393.40" stroke="#262626" stroke-width="1.4"/>
<text x="34.10" y="400.20" class="tk" text-anchor="end">0</text>
<text x="34.10" y="377.53" class="tk" text-anchor="end">50</text>
<text x="34.10" y="354.87" class="tk" text-anchor="end">100</text>
<text x="34.10" y="332.20" class="tk" text-anchor="end">150</text>
<text x="34.10" y="309.53" class="tk" text-anchor="end">200</text>
<text x="34.10" y="286.87" class="tk" text-anchor="end">250</text>
<text x="34.10" y="264.20" class="tk" text-anchor="end">300</text>
<text x="42.30" y="411.80" class="tk" text-anchor="middle">0.00</text>
<text x="69.39" y="411.80" class="tk" text-anchor="middle">0.25</text>
<text x="96.47" y="411.80" class="tk" text-anchor="middle">0.50</text>
<text x="123.56" y="411.80" class="tk" text-anchor="middle">0.75</text>
<text x="150.65" y="411.80" class="tk" text-anchor="middle">1.00</text>
<text x="177.74" y="411.80" class="tk" text-anchor="middle">1.25</text>
<text x="204.82" y="411.80" class="tk" text-anchor="middle">1.50</text>
<text x="231.91" y="411.80" class="tk" text-anchor="middle">1.75</text>
<text x="259.00" y="411.80" class="tk" text-anchor="middle">2.00</text>
<text transform="translate(14.20,324.20) rotate(-90)" class="yt" text-anchor="middle">Moment (KN.m)</text>
<text x="118.00" y="422.40" class="ti">Rotation<tspan x="153.30">(rad)</tspan><tspan x="177.70">x10</tspan><tspan class="sup" x="192.40" dy="-3.9">-2</tspan></text>
<text x="138.50" y="441.90" class="cap" text-anchor="middle">(<tspan font-weight="bold">c</tspan>)</text>
<line x1="304.3" y1="235.5" x2="335.8" y2="235.5" stroke="#000000" stroke-width="1.9" stroke-dasharray="4.9 1.75"/>
<text x="338.5" y="238.6" class="lg">B4-D30-S050-T12.</text>
<line x1="428.5" y1="235.5" x2="460.0" y2="235.5" stroke="#0000ff" stroke-width="1.9" stroke-dasharray="6.4 5.4"/>
<text x="462.5" y="238.6" class="lg">B4-D30-S050-T18.</text>
<line x1="304.3" y1="248.0" x2="335.8" y2="248.0" stroke="#ff0000" stroke-width="1.9" stroke-dasharray="13.1 5.3"/>
<text x="338.5" y="251.1" class="lg">B4-D30-S050-T24.</text>
<line x1="428.5" y1="248.0" x2="460.0" y2="248.0" stroke="#536630" stroke-width="1.9"/>
<text x="462.5" y="251.1" class="lg">B4-D30-S050-T30.</text>
<path d="M318.30,396.40 L320.79,388.47 L321.10,388.25 L321.40,388.02 L321.70,387.79 L322.01,387.56 L322.31,387.33 L322.61,387.10 L322.92,386.88 L323.22,386.67 L323.52,386.48 L323.83,386.29 L324.52,385.90 L325.21,385.55 L325.91,385.21 L326.60,384.90 L327.29,384.60 L327.99,384.30 L328.68,384.00 L329.37,383.69 L330.07,383.37 L330.76,383.03 L331.78,382.49 L332.80,381.94 L333.82,381.37 L334.83,380.79 L335.85,380.20 L336.87,379.60 L337.89,379.00 L338.91,378.40 L339.93,377.81 L340.95,377.22 L342.40,376.39 L343.85,375.54 L345.30,374.69 L346.75,373.83 L348.20,372.97 L349.66,372.13 L351.11,371.30 L352.56,370.50 L354.01,369.72 L355.46,368.97 L356.57,368.42 L357.67,367.88 L358.78,367.35 L359.88,366.82 L360.99,366.31 L362.10,365.81 L363.20,365.33 L364.31,364.86 L365.41,364.41 L366.52,363.99 L367.63,363.57 L368.75,363.17 L369.86,362.79 L370.98,362.41 L372.10,362.05 L373.21,361.70 L374.33,361.36 L375.44,361.02 L376.56,360.69 L377.68,360.36 L378.79,360.04 L379.91,359.72 L381.02,359.41 L382.14,359.11 L383.26,358.82 L384.37,358.52 L385.49,358.24 L386.60,357.96 L387.72,357.68 L388.84,357.41 L389.44,357.27 L390.05,357.13 L390.66,356.99 L391.26,356.86 L391.87,356.72 L392.48,356.59 L393.08,356.46 L393.69,356.32 L394.30,356.19 L394.90,356.05 L395.99,355.80 L397.07,355.55 L398.15,355.29 L399.24,355.03 L400.32,354.78 L401.40,354.52 L402.49,354.27 L403.57,354.02 L404.65,353.79 L405.74,353.56 L406.83,353.34 L407.93,353.13 L409.02,352.93 L410.12,352.73 L411.21,352.53 L412.30,352.34 L413.40,352.15 L414.49,351.96 L415.59,351.76 L416.68,351.57 L417.78,351.37 L418.87,351.16 L419.96,350.96 L421.06,350.76 L422.15,350.56 L423.25,350.36 L424.34,350.16 L425.44,349.96 L426.53,349.76 L427.63,349.57 L428.71,349.38 L429.79,349.19 L430.88,349.00 L431.96,348.81 L433.04,348.63 L434.13,348.45 L435.21,348.27 L436.29,348.09 L437.38,347.92 L438.46,347.76 L440.11,347.51 L441.75,347.27 L443.40,347.04 L445.05,346.81 L446.69,346.58 L448.34,346.36 L449.99,346.15 L451.64,345.95 L453.28,345.76 L454.93,345.58 L458.43,345.22 L461.93,344.87 L465.43,344.53 L468.93,344.21 L472.43,343.91 L475.93,343.62 L479.43,343.34 L482.93,343.08 L486.43,342.83 L489.93,342.59 L491.96,342.46 L494.00,342.33 L496.04,342.22 L498.07,342.10 L500.11,341.99 L502.15,341.88 L504.19,341.78 L506.22,341.67 L508.26,341.57 L510.30,341.46 L512.53,341.34 L514.76,341.22 L516.99,341.10 L519.22,340.98 L521.46,340.86 L523.69,340.75 L525.92,340.63 L528.15,340.51 L530.38,340.39 L532.62,340.28" fill="none" stroke="#000000" stroke-width="1.95" stroke-linejoin="round" stroke-dasharray="4.8 2.1"/>
<path d="M318.30,396.40 L320.79,388.01 L321.10,387.78 L321.40,387.55 L321.70,387.32 L322.01,387.09 L322.31,386.86 L322.61,386.62 L322.92,386.40 L323.22,386.17 L323.52,385.96 L323.83,385.75 L324.23,385.48 L324.63,385.22 L325.03,384.97 L325.43,384.73 L325.83,384.49 L326.23,384.25 L326.63,384.01 L327.03,383.76 L327.43,383.51 L327.83,383.25 L328.51,382.80 L329.18,382.34 L329.85,381.87 L330.52,381.38 L331.19,380.90 L331.87,380.41 L332.54,379.92 L333.21,379.44 L333.88,378.96 L334.55,378.49 L335.48,377.86 L336.42,377.22 L337.35,376.59 L338.28,375.97 L339.21,375.35 L340.14,374.73 L341.08,374.12 L342.01,373.51 L342.94,372.89 L343.87,372.28 L344.80,371.67 L345.73,371.06 L346.67,370.45 L347.60,369.84 L348.53,369.23 L349.46,368.62 L350.39,368.02 L351.33,367.43 L352.26,366.84 L353.19,366.25 L354.30,365.56 L355.42,364.87 L356.54,364.18 L357.65,363.50 L358.77,362.83 L359.88,362.16 L361.00,361.50 L362.12,360.85 L363.23,360.21 L364.35,359.59 L365.45,358.98 L366.56,358.38 L367.66,357.79 L368.77,357.21 L369.87,356.64 L370.98,356.07 L372.08,355.51 L373.19,354.96 L374.30,354.42 L375.40,353.88 L376.52,353.34 L377.63,352.82 L378.75,352.31 L379.86,351.81 L380.98,351.31 L382.10,350.81 L383.21,350.32 L384.33,349.82 L385.44,349.31 L386.56,348.80 L387.39,348.41 L388.23,348.00 L389.06,347.59 L389.90,347.18 L390.73,346.77 L391.57,346.36 L392.40,345.96 L393.23,345.57 L394.07,345.20 L394.90,344.86 L396.01,344.42 L397.11,344.00 L398.22,343.61 L399.32,343.22 L400.43,342.85 L401.53,342.48 L402.64,342.11 L403.74,341.75 L404.85,341.38 L405.96,341.00 L407.08,340.61 L408.21,340.21 L409.34,339.81 L410.46,339.41 L411.59,339.01 L412.72,338.62 L413.84,338.24 L414.97,337.87 L416.10,337.52 L417.22,337.19 L418.33,336.89 L419.43,336.60 L420.54,336.31 L421.64,336.04 L422.75,335.77 L423.85,335.51 L424.96,335.26 L426.06,335.01 L427.17,334.76 L428.28,334.52 L429.43,334.27 L430.59,334.02 L431.75,333.77 L432.91,333.53 L434.07,333.30 L435.23,333.07 L436.39,332.84 L437.55,332.63 L438.71,332.41 L439.87,332.21 L442.10,331.83 L444.33,331.46 L446.56,331.10 L448.80,330.75 L451.03,330.41 L453.26,330.08 L455.49,329.76 L457.72,329.45 L459.96,329.15 L462.19,328.85 L464.87,328.50 L467.54,328.15 L470.22,327.81 L472.89,327.47 L475.57,327.14 L478.25,326.83 L480.92,326.53 L483.60,326.25 L486.28,326.00 L488.95,325.77 L490.52,325.65 L492.09,325.54 L493.66,325.44 L495.24,325.34 L496.81,325.25 L498.38,325.15 L499.95,325.06 L501.52,324.97 L503.09,324.87 L504.66,324.77 L507.23,324.60 L509.80,324.42 L512.37,324.24 L514.93,324.06 L517.50,323.88 L520.07,323.70 L522.64,323.51 L525.21,323.33 L527.77,323.14 L530.34,322.96" fill="none" stroke="#0000ff" stroke-width="2.0" stroke-linejoin="round" stroke-dasharray="6.3 5.5"/>
<path d="M318.30,396.40 L318.84,393.00 L319.04,392.48 L319.23,391.92 L319.43,391.34 L319.62,390.76 L319.82,390.19 L320.01,389.64 L320.21,389.14 L320.40,388.69 L320.60,388.31 L320.79,388.01 L321.10,387.66 L321.40,387.35 L321.70,387.08 L322.01,386.84 L322.31,386.63 L322.61,386.42 L322.92,386.23 L323.22,386.04 L323.52,385.83 L323.83,385.61 L324.52,385.08 L325.21,384.56 L325.91,384.05 L326.60,383.53 L327.29,383.03 L327.99,382.52 L328.68,382.02 L329.37,381.52 L330.07,381.03 L330.76,380.53 L331.78,379.82 L332.80,379.11 L333.82,378.41 L334.83,377.72 L335.85,377.03 L336.87,376.33 L337.89,375.64 L338.91,374.94 L339.93,374.23 L340.95,373.51 L342.43,372.43 L343.91,371.33 L345.40,370.21 L346.88,369.08 L348.37,367.95 L349.85,366.81 L351.34,365.68 L352.82,364.57 L354.30,363.47 L355.79,362.40 L357.09,361.48 L358.39,360.58 L359.69,359.69 L360.99,358.81 L362.29,357.94 L363.59,357.07 L364.89,356.20 L366.19,355.32 L367.49,354.45 L368.79,353.56 L369.91,352.78 L371.02,351.99 L372.14,351.18 L373.26,350.37 L374.37,349.57 L375.49,348.77 L376.60,348.00 L377.72,347.25 L378.84,346.53 L379.95,345.85 L381.39,345.03 L382.83,344.23 L384.27,343.46 L385.72,342.72 L387.16,342.00 L388.60,341.30 L390.04,340.61 L391.48,339.94 L392.92,339.27 L394.36,338.60 L394.91,338.35 L395.47,338.11 L396.02,337.87 L396.57,337.63 L397.12,337.40 L397.68,337.17 L398.23,336.93 L398.78,336.69 L399.33,336.45 L399.89,336.20 L400.49,335.91 L401.10,335.60 L401.71,335.29 L402.31,334.97 L402.92,334.65 L403.53,334.33 L404.13,334.02 L404.74,333.72 L405.35,333.43 L405.96,333.16 L407.08,332.68 L408.21,332.22 L409.34,331.76 L410.46,331.32 L411.59,330.90 L412.72,330.49 L413.84,330.11 L414.97,329.74 L416.10,329.40 L417.22,329.08 L418.33,328.79 L419.43,328.51 L420.54,328.25 L421.64,328.00 L422.75,327.76 L423.85,327.53 L424.96,327.30 L426.06,327.09 L427.17,326.88 L428.28,326.68 L429.89,326.39 L431.50,326.12 L433.12,325.87 L434.73,325.62 L436.35,325.38 L437.96,325.14 L439.58,324.91 L441.19,324.67 L442.80,324.43 L444.42,324.18 L446.75,323.81 L449.08,323.43 L451.41,323.03 L453.74,322.64 L456.07,322.24 L458.40,321.86 L460.73,321.48 L463.06,321.12 L465.39,320.78 L467.71,320.47 L469.94,320.19 L472.16,319.92 L474.38,319.66 L476.60,319.41 L478.82,319.17 L481.04,318.93 L483.26,318.71 L485.48,318.49 L487.71,318.27 L489.93,318.06 L491.40,317.93 L492.87,317.79 L494.35,317.66 L495.82,317.53 L497.29,317.41 L498.77,317.29 L500.24,317.17 L501.71,317.05 L503.19,316.94 L504.66,316.84 L507.23,316.67 L509.80,316.50 L512.37,316.35 L514.93,316.20 L517.50,316.06 L520.07,315.91 L522.64,315.77 L525.21,315.63 L527.77,315.49 L530.34,315.34" fill="none" stroke="#ff0000" stroke-width="2.0" stroke-linejoin="round" stroke-dasharray="12.8 5.6"/>
<path d="M318.30,396.40 L319.17,392.32 L319.35,391.85 L319.54,391.35 L319.72,390.84 L319.90,390.32 L320.09,389.81 L320.27,389.32 L320.46,388.86 L320.64,388.44 L320.82,388.08 L321.01,387.79 L321.28,387.43 L321.55,387.11 L321.82,386.83 L322.09,386.57 L322.36,386.34 L322.63,386.12 L322.90,385.91 L323.18,385.69 L323.45,385.48 L323.72,385.25 L324.42,384.64 L325.13,384.05 L325.83,383.47 L326.53,382.91 L327.24,382.35 L327.94,381.80 L328.65,381.25 L329.35,380.71 L330.06,380.17 L330.76,379.63 L331.78,378.85 L332.80,378.09 L333.82,377.34 L334.83,376.60 L335.85,375.86 L336.87,375.11 L337.89,374.36 L338.91,373.60 L339.93,372.82 L340.95,372.01 L341.83,371.28 L342.72,370.52 L343.61,369.75 L344.50,368.96 L345.39,368.16 L346.28,367.37 L347.16,366.58 L348.05,365.80 L348.94,365.04 L349.83,364.30 L350.83,363.51 L351.82,362.72 L352.82,361.96 L353.82,361.20 L354.81,360.46 L355.81,359.71 L356.81,358.97 L357.80,358.23 L358.80,357.49 L359.80,356.73 L360.39,356.28 L360.99,355.82 L361.59,355.35 L362.18,354.89 L362.78,354.43 L363.37,353.97 L363.97,353.52 L364.57,353.07 L365.16,352.63 L365.76,352.20 L366.72,351.52 L367.69,350.85 L368.65,350.19 L369.61,349.55 L370.58,348.91 L371.54,348.28 L372.51,347.66 L373.47,347.05 L374.44,346.45 L375.40,345.85 L376.19,345.37 L376.98,344.90 L377.77,344.44 L378.56,343.98 L379.36,343.53 L380.15,343.08 L380.94,342.64 L381.73,342.19 L382.52,341.76 L383.31,341.32 L384.08,340.90 L384.85,340.47 L385.62,340.05 L386.39,339.64 L387.16,339.22 L387.93,338.81 L388.69,338.41 L389.46,338.01 L390.23,337.62 L391.00,337.24 L391.75,336.88 L392.50,336.52 L393.25,336.17 L393.99,335.83 L394.74,335.49 L395.49,335.15 L396.24,334.82 L396.98,334.49 L397.73,334.17 L398.48,333.84 L399.29,333.48 L400.10,333.12 L400.92,332.76 L401.73,332.41 L402.54,332.05 L403.35,331.70 L404.17,331.37 L404.98,331.04 L405.79,330.73 L406.61,330.44 L407.44,330.15 L408.27,329.88 L409.11,329.61 L409.94,329.35 L410.78,329.10 L411.61,328.85 L412.45,328.62 L413.28,328.39 L414.11,328.16 L414.95,327.95 L416.51,327.56 L418.07,327.18 L419.63,326.82 L421.19,326.48 L422.75,326.14 L424.31,325.81 L425.87,325.49 L427.43,325.18 L428.99,324.86 L430.55,324.55 L432.11,324.23 L433.67,323.92 L435.23,323.61 L436.79,323.30 L438.35,323.00 L439.91,322.71 L441.47,322.42 L443.03,322.14 L444.59,321.86 L446.15,321.60 L447.67,321.35 L449.19,321.11 L450.70,320.88 L452.22,320.66 L453.74,320.43 L455.25,320.21 L456.77,320.00 L458.29,319.78 L459.81,319.56 L461.32,319.33 L462.69,319.13 L464.05,318.92 L465.42,318.71 L466.78,318.50 L468.15,318.29 L469.51,318.08 L470.88,317.87 L472.24,317.67 L473.61,317.48 L474.97,317.29 L476.47,317.09 L477.96,316.89 L479.46,316.69 L480.96,316.49 L482.45,316.30 L483.95,316.11 L485.44,315.94 L486.94,315.77 L488.43,315.62 L489.93,315.48 L491.96,315.30 L494.00,315.14 L496.04,314.98 L498.07,314.82 L500.11,314.68 L502.15,314.54 L504.19,314.42 L506.22,314.31 L508.26,314.21 L510.30,314.12 L512.74,314.03 L515.19,313.95 L517.64,313.87 L520.09,313.81 L522.54,313.74 L524.99,313.68 L527.44,313.63 L529.89,313.57 L532.33,313.51 L534.78,313.44" fill="none" stroke="#536630" stroke-width="1.85" stroke-linejoin="round"/>
<rect x="318.30" y="260.40" width="216.70" height="136.00" fill="none" stroke="#262626" stroke-width="1.45"/>
<line x1="318.30" y1="373.73" x2="321.30" y2="373.73" stroke="#262626" stroke-width="1.4"/>
<line x1="318.30" y1="351.07" x2="321.30" y2="351.07" stroke="#262626" stroke-width="1.4"/>
<line x1="318.30" y1="328.40" x2="321.30" y2="328.40" stroke="#262626" stroke-width="1.4"/>
<line x1="318.30" y1="305.73" x2="321.30" y2="305.73" stroke="#262626" stroke-width="1.4"/>
<line x1="318.30" y1="283.07" x2="321.30" y2="283.07" stroke="#262626" stroke-width="1.4"/>
<line x1="345.39" y1="396.40" x2="345.39" y2="393.40" stroke="#262626" stroke-width="1.4"/>
<line x1="372.48" y1="396.40" x2="372.48" y2="393.40" stroke="#262626" stroke-width="1.4"/>
<line x1="399.56" y1="396.40" x2="399.56" y2="393.40" stroke="#262626" stroke-width="1.4"/>
<line x1="426.65" y1="396.40" x2="426.65" y2="393.40" stroke="#262626" stroke-width="1.4"/>
<line x1="453.74" y1="396.40" x2="453.74" y2="393.40" stroke="#262626" stroke-width="1.4"/>
<line x1="480.82" y1="396.40" x2="480.82" y2="393.40" stroke="#262626" stroke-width="1.4"/>
<line x1="507.91" y1="396.40" x2="507.91" y2="393.40" stroke="#262626" stroke-width="1.4"/>
<text x="310.10" y="400.20" class="tk" text-anchor="end">0</text>
<text x="310.10" y="377.53" class="tk" text-anchor="end">50</text>
<text x="310.10" y="354.87" class="tk" text-anchor="end">100</text>
<text x="310.10" y="332.20" class="tk" text-anchor="end">150</text>
<text x="310.10" y="309.53" class="tk" text-anchor="end">200</text>
<text x="310.10" y="286.87" class="tk" text-anchor="end">250</text>
<text x="310.10" y="264.20" class="tk" text-anchor="end">300</text>
<text x="318.30" y="411.80" class="tk" text-anchor="middle">0.00</text>
<text x="345.39" y="411.80" class="tk" text-anchor="middle">0.25</text>
<text x="372.48" y="411.80" class="tk" text-anchor="middle">0.50</text>
<text x="399.56" y="411.80" class="tk" text-anchor="middle">0.75</text>
<text x="426.65" y="411.80" class="tk" text-anchor="middle">1.00</text>
<text x="453.74" y="411.80" class="tk" text-anchor="middle">1.25</text>
<text x="480.82" y="411.80" class="tk" text-anchor="middle">1.50</text>
<text x="507.91" y="411.80" class="tk" text-anchor="middle">1.75</text>
<text x="535.00" y="411.80" class="tk" text-anchor="middle">2.00</text>
<text transform="translate(290.70,324.20) rotate(-90)" class="yt" text-anchor="middle">Moment (KN.m)</text>
<text x="393.40" y="422.40" class="ti">Rotation<tspan x="428.70">(rad)</tspan><tspan x="453.10">x10</tspan><tspan class="sup" x="467.80" dy="-3.9">-2</tspan></text>
<text x="415.30" y="441.90" class="cap" text-anchor="middle">(<tspan font-weight="bold">d</tspan>)</text>
</svg>
</body></html>
